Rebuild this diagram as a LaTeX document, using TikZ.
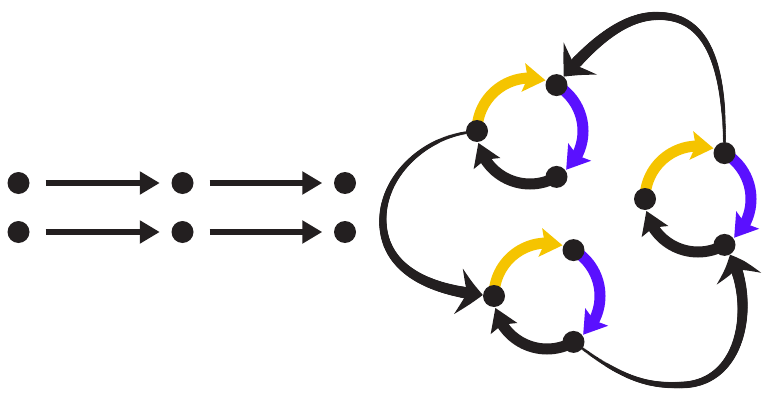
\documentclass[tikz,border=0pt]{standalone}
\usetikzlibrary{arrows.meta,bending,decorations.markings,backgrounds}
\definecolor{ink}{HTML}{231F20}
\definecolor{cycyellow}{HTML}{F5C400}
\definecolor{cycpurple}{HTML}{5A10FF}
\begin{document}
\begin{tikzpicture}[x=1pt,y=-1pt,
  dot/.style={circle,fill=ink,minimum size=22pt,inner sep=0pt},
  flowarrow/.style={draw=ink,line width=6pt,-{Triangle[length=20pt,width=22pt]},shorten <=16pt,shorten >=11.5pt},
  cyc/.style={line width=11pt,-{Stealth[length=22pt,width=28pt,inset=4pt]}},
  taper/.style={decorate,decoration={markings,
    mark=between positions 0 and 0.93 step 0.004 with {%
      \pgfmathsetmacro\taperr{1.5+4.2*\pgfkeysvalueof{/pgf/decoration/mark info/sequence number}/233}%
      \fill[ink] (0,0) circle[radius=\taperr pt];}}},
  bigconn/.style={draw=ink,line width=2pt,-{Stealth[length=25pt,width=46pt,inset=9pt,bend]},postaction={taper}}]
\useasboundingbox (0,0) rectangle (768,409);
% left flows
\node[dot] (d11) at (18.5,183) {};
\node[dot] (d12) at (182.5,183) {};
\node[dot] (d13) at (345,183) {};
\node[dot] (d21) at (18.5,232) {};
\node[dot] (d22) at (182.5,232) {};
\node[dot] (d23) at (345,232) {};
\draw[flowarrow] (d11) -- (d12);
\draw[flowarrow] (d12) -- (d13);
\draw[flowarrow] (d21) -- (d22);
\draw[flowarrow] (d22) -- (d23);
% cycles
\node[dot] (A1) at (477,131) {};
\node[dot] (B1) at (556.5,85.1) {};
\node[dot] (C1) at (556.5,176.9) {};
\node[dot] (A2) at (645,199) {};
\node[dot] (B2) at (724.5,153.1) {};
\node[dot] (C2) at (724.5,244.9) {};
\node[dot] (A3) at (494,296) {};
\node[dot] (B3) at (573.5,250.1) {};
\node[dot] (C3) at (573.5,341.9) {};
\begin{pgfonlayer}{background}
\foreach \a/\b/\c in {A1/B1/C1,A2/B2/C2,A3/B3/C3}{
  \draw[cyc,cycyellow] (\a.center) arc[start angle=-180,end angle=-73,radius=53];
  \draw[cyc,cycpurple] (\b.center) arc[start angle=-60,end angle=47,radius=53];
  \draw[cyc,ink] (\c.center) arc[start angle=60,end angle=167,radius=53];
}
\draw[bigconn] (B2) .. controls (724,60) and (705,14) .. (655,16) .. controls (625,17) and (595,40) .. (B1);
\draw[bigconn] (A1) .. controls (420,140) and (380,180) .. (383,225) .. controls (386,270) and (430,290) .. (A3);
\draw[bigconn,shorten <=8pt] (C3) .. controls (625,380) and (650,386) .. (680,385) .. controls (745,385) and (755,300) .. (C2);
\end{pgfonlayer}
\end{tikzpicture}
\end{document}
